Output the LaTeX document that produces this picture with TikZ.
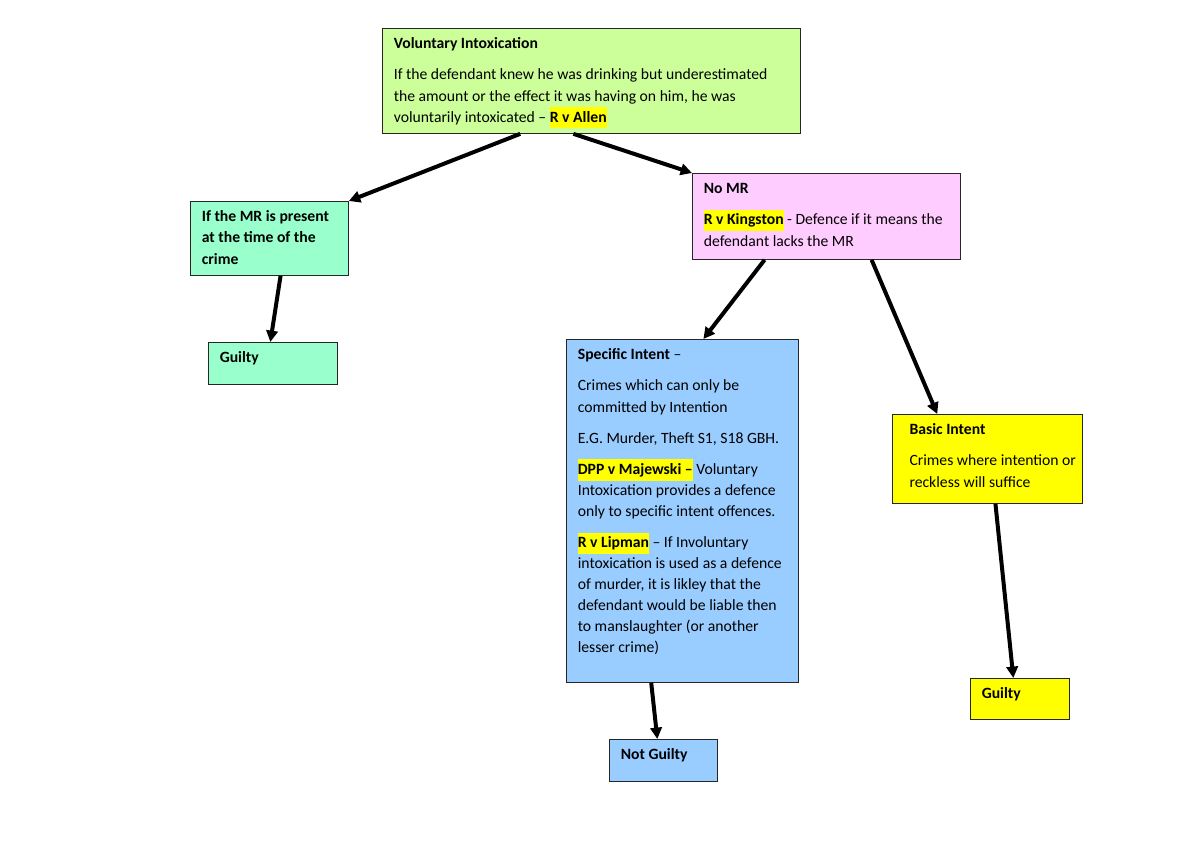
\documentclass[tikz,border=0pt]{standalone}
\usepackage{fontspec}
\setmainfont{Carlito}
\usetikzlibrary{arrows.meta,calc}
\definecolor{vigreen}{HTML}{CCFF99}
\definecolor{mrgreen}{HTML}{99FFCC}
\definecolor{nopink}{HTML}{FFCCFF}
\definecolor{siblue}{HTML}{99CCFF}
\definecolor{biyellow}{HTML}{FFFF00}
\definecolor{hlyellow}{HTML}{FFFF00}
% text block of a box: width and height in pixels of the page
\newcommand\crimetext[3]{\begin{minipage}[t][\dimexpr0.7017pt*#2-8pt\relax][t]{\dimexpr0.7017pt*#1-16pt\relax}\raggedright\setlength\parskip{7pt}\strut #3\end{minipage}}
\newcommand\caseref[1]{{\setlength\fboxsep{0pt}\colorbox{hlyellow}{\strut\textbf{#1}}}}

\begin{document}
\begin{tikzpicture}[
            x=0.7017pt, y=-0.7017pt,
            box/.style={draw=black!85, line width=0.6pt, anchor=north west, inner xsep=8pt, inner ysep=4pt, font=\fontsize{11}{14.8}\selectfont},
            arrow/.style={-{Triangle[length=8pt,width=8pt]}, line width=2.8pt}
        ]
            \useasboundingbox (0,0) rectangle (1200,848);

            % Boxes
            \node[box, fill=vigreen] (vi) at (382,28) {\crimetext{418}{105}{\textbf{Voluntary Intoxication}

If the defendant knew he was drinking but underestimated\\ the amount or the effect it was having on him, he was\\ voluntarily intoxicated – \caseref{R v Allen}}};
            \node[box, fill=mrgreen] (mr) at (190,201) {\crimetext{158}{74}{\textbf{If the MR is present\\ at the time of the\\ crime}}};
            \node[box, fill=mrgreen] (gl) at (208,342) {\crimetext{129}{42}{\textbf{Guilty}}};
            \node[box, fill=nopink] (nomr) at (692,173) {\crimetext{268}{86}{\textbf{No MR}

\caseref{R v Kingston} - Defence if it means the\\ defendant lacks the MR}};
            \node[box, fill=siblue] (si) at (566,339) {\crimetext{232}{343}{\textbf{Specific Intent} –

Crimes which can only be\\ committed by Intention

E.G. Murder, Theft S1, S18 GBH.

\caseref{DPP v Majewski –} Voluntary\\ Intoxication provides a defence\\ only to specific intent offences.

\caseref{R v Lipman} – If Involuntary\\ intoxication is used as a defence\\ of murder, it is likley that the\\ defendant would be liable then\\ to manslaughter (or another\\ lesser crime)}};
            \node[box, fill=siblue] (ng) at (609,739) {\crimetext{108}{42}{\textbf{Not Guilty}}};
            \node[box, fill=biyellow] (bi) at (892,414) {\crimetext{190}{89}{\leftskip=4pt\textbf{Basic Intent}

\mbox{Crimes where intention or}\\ reckless will suffice}};
            \node[box, fill=biyellow] (gr) at (970,678) {\crimetext{99}{41}{\textbf{Guilty}}};

            % Arrows
            \draw[arrow] ($(vi.south west)!0.33!(vi.south east)$) -- (mr.north east);
            \draw[arrow] ($(vi.south west)!0.457!(vi.south east)$) -- (nomr.north west);
            \draw[arrow] ($(mr.south west)!0.57!(mr.south east)$) -- ($(gl.north west)!0.48!(gl.north east)$);
            \draw[arrow] ($(nomr.south west)!0.27!(nomr.south east)$) -- ($(si.north west)!0.59!(si.north east)$);
            \draw[arrow] ($(nomr.south west)!0.668!(nomr.south east)$) -- ($(bi.north west)!0.237!(bi.north east)$);
            \draw[arrow] ($(si.south west)!0.366!(si.south east)$) -- ($(ng.north west)!0.444!(ng.north east)$);
            \draw[arrow] ($(bi.south west)!0.542!(bi.south east)$) -- ($(gr.north west)!0.434!(gr.north east)$);
        \end{tikzpicture}
\end{document}
